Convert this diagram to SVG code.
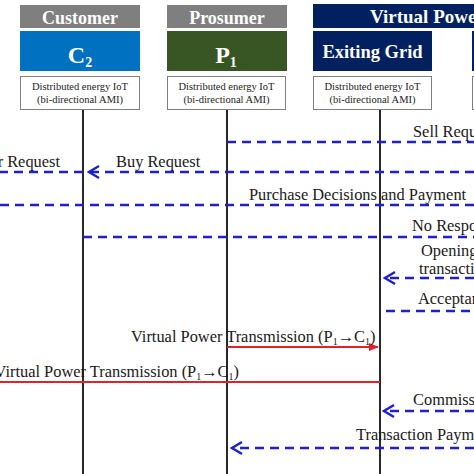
<svg xmlns="http://www.w3.org/2000/svg" width="474" height="474" viewBox="0 0 474 474">
<defs>
<style>
.hdr{fill:#7f7f7f}
.hdrtxt{font-family:"Liberation Serif",serif;font-weight:bold;font-size:18px;fill:#fff}
.big{font-family:"Liberation Serif",serif;font-weight:bold;font-size:24px;fill:#fff}
.sub{font-size:14px}
.iot{fill:#fff;stroke:#7f7f7f;stroke-width:1}
.iottxt{font-family:"Liberation Serif",serif;font-size:10.5px;fill:#222;text-anchor:middle}
.life{stroke:#111;stroke-width:1.8}
.msg{stroke:#1f1fcc;stroke-width:2.4;stroke-dasharray:9,6;fill:none}
.red{stroke:#e32228;stroke-width:2;fill:none}
.lbl{font-family:"Liberation Serif",serif;font-size:16.4px;fill:#1a1a1a}
</style>
<marker id="open" markerUnits="userSpaceOnUse" markerWidth="14" markerHeight="16" refX="11" refY="7" orient="auto" viewBox="-1 0 14 14">
<path d="M1,1 L11,7 L1,13" fill="none" stroke="#1f1fcc" stroke-width="2.4" stroke-dasharray="none"/>
</marker>
<marker id="redhead" markerUnits="userSpaceOnUse" markerWidth="10" markerHeight="8" refX="9" refY="4" orient="auto" viewBox="0 0 10 8">
<path d="M0,0 L10,4 L0,8 Z" fill="#e32228"/>
</marker>
</defs>
<rect width="474" height="474" fill="#fff"/>

<g id="customer">
<rect class="hdr" x="20" y="5" width="120" height="23"/>
<text class="hdrtxt" x="80" y="24" text-anchor="middle">Customer</text>
<rect x="20" y="31" width="120" height="40" fill="#0070c0"/>
<text class="big" x="80" y="63" text-anchor="middle">C<tspan class="sub" dy="4">2</tspan></text>
<rect class="iot" x="20.5" y="76.5" width="119" height="33"/>
<text class="iottxt" x="80" y="90">Distributed energy IoT</text>
<text class="iottxt" x="80" y="103">(bi-directional AMI)</text>
</g>

<g id="prosumer">
<rect class="hdr" x="167" y="5" width="120" height="23"/>
<text class="hdrtxt" x="227" y="24" text-anchor="middle">Prosumer</text>
<rect x="167" y="31" width="120" height="40" fill="#375623"/>
<text class="big" x="226" y="63" text-anchor="middle">P<tspan class="sub" dy="4">1</tspan></text>
<rect class="iot" x="167.5" y="76.5" width="118" height="33"/>
<text class="iottxt" x="226.5" y="90">Distributed energy IoT</text>
<text class="iottxt" x="226.5" y="103">(bi-directional AMI)</text>
</g>

<g id="virtual-power">
<rect x="313" y="4" width="161" height="24" fill="#002060"/>
<text class="hdrtxt" x="370" y="23" style="font-size:19px">Virtual Power</text>
</g>

<g id="grid">
<rect x="313" y="31" width="119" height="40" fill="#002060"/>
<text class="hdrtxt" x="372.5" y="58" text-anchor="middle" style="font-size:18.5px">Exiting Grid</text>
<rect class="iot" x="313.5" y="76.5" width="118" height="33"/>
<text class="iottxt" x="372.5" y="90">Distributed energy IoT</text>
<text class="iottxt" x="372.5" y="103">(bi-directional AMI)</text>
</g>

<g id="next-column">
<rect x="472" y="31" width="2" height="40" fill="#002060"/>
<rect class="iot" x="472.5" y="76.5" width="10" height="33"/>
</g>

<g id="lifelines">
<line class="life" x1="83" y1="110" x2="83" y2="474"/>
<line class="life" x1="227" y1="110" x2="227" y2="474"/>
<line class="life" x1="380" y1="110" x2="380" y2="474"/>
</g>

<g id="connectors">
<line class="msg" x1="227" y1="142" x2="474" y2="142"/>
<line class="msg" x1="474" y1="172" x2="89" y2="172" marker-end="url(#open)"/>
<line class="msg" x1="83" y1="172" x2="0" y2="172"/>
<line class="msg" x1="0" y1="205" x2="474" y2="205"/>
<line class="msg" x1="83" y1="237" x2="474" y2="237"/>
<line class="msg" x1="474" y1="278" x2="385" y2="278" marker-end="url(#open)"/>
<line class="msg" x1="386" y1="311" x2="474" y2="311"/>
<line class="red" x1="227" y1="347" x2="378" y2="347" marker-end="url(#redhead)"/>
<line class="red" x1="0" y1="382" x2="380" y2="382"/>
<line class="msg" x1="474" y1="411" x2="384" y2="411" marker-end="url(#open)"/>
<line class="msg" x1="474" y1="448" x2="232" y2="448" marker-end="url(#open)"/>
</g>

<g id="labels">
<text class="lbl" x="60" y="167" text-anchor="end">r Request</text>
<text class="lbl" x="116" y="167">Buy Request</text>
<text class="lbl" x="413" y="137">Sell Request</text>
<text class="lbl" x="249" y="200">Purchase Decisions and Payment</text>
<text class="lbl" x="412" y="231">No Response</text>
<text class="lbl" x="421" y="256">Opening</text>
<text class="lbl" x="419" y="274">transaction</text>
<text class="lbl" x="418" y="304">Acceptance</text>
<text class="lbl" x="131" y="342">Virtual Power Transmission (P<tspan font-size="10" dy="3">1</tspan><tspan dy="-3">→C</tspan><tspan font-size="10" dy="3">1</tspan><tspan dy="-3">)</tspan></text>
<text class="lbl" x="239" y="377" text-anchor="end">Virtual Power Transmission (P<tspan font-size="10" dy="3">1</tspan><tspan dy="-3">→C</tspan><tspan font-size="10" dy="3">1</tspan><tspan dy="-3">)</tspan></text>
<text class="lbl" x="413" y="405">Commission</text>
<text class="lbl" x="356" y="440">Transaction Payment</text>
</g>
</svg>
